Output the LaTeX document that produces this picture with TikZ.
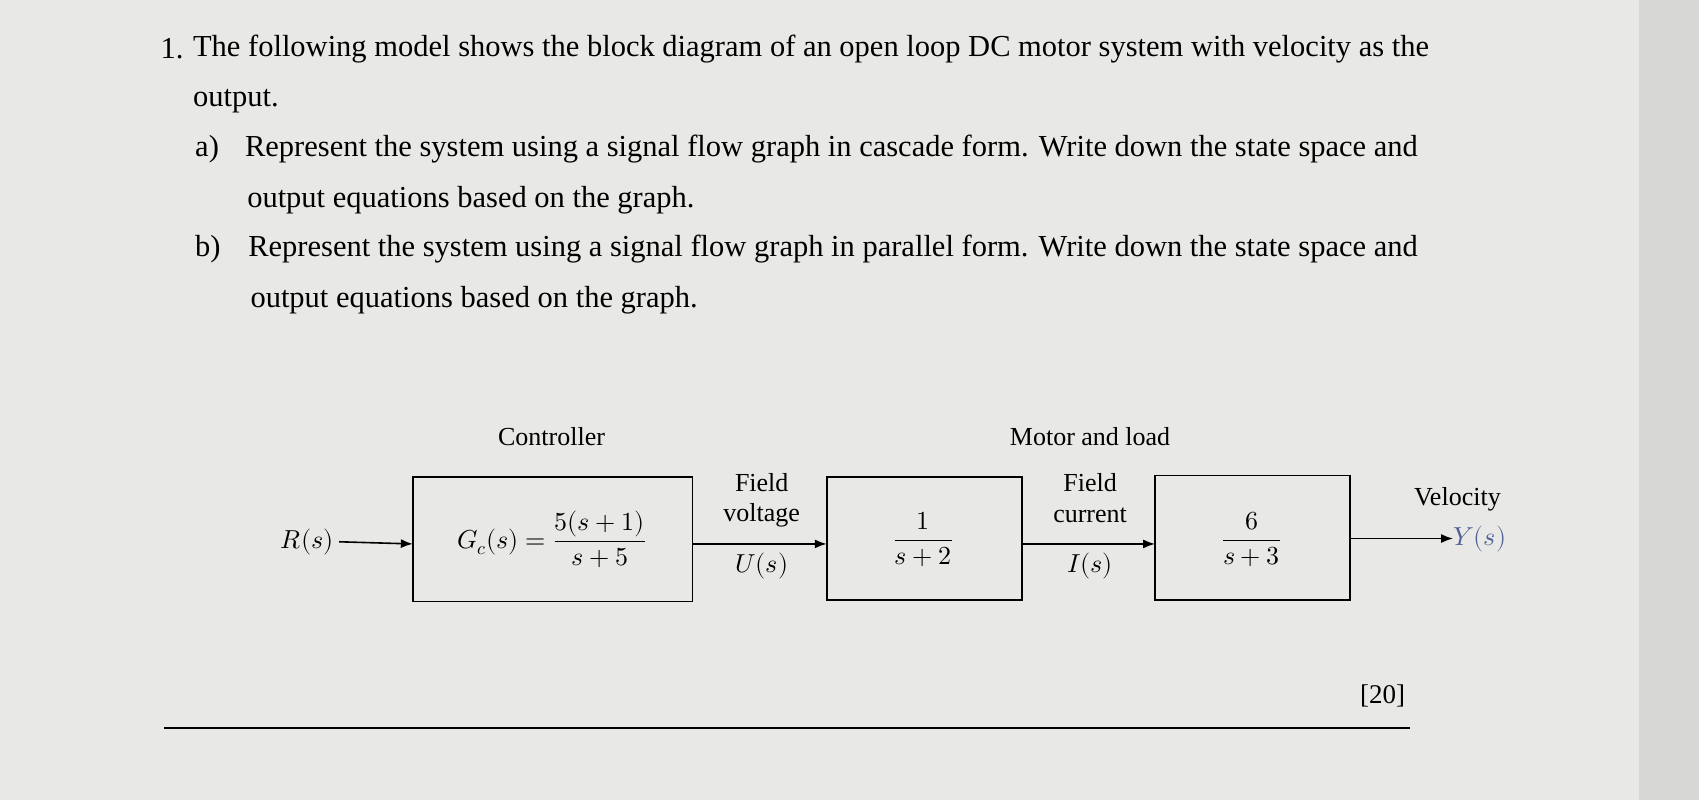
\documentclass[tikz,border=0pt]{standalone}
\usetikzlibrary{arrows.meta}
\usepackage{fontspec}
\setmainfont{Liberation Serif}
\usepackage{unicode-math}
\setmathfont{Latin Modern Math}
\setmathrm{Liberation Serif}
\definecolor{bgc}{RGB}{232,232,230}
\definecolor{bgd}{RGB}{215,215,213}
\definecolor{ycol}{RGB}{80,95,150}
\begin{document}
\begin{tikzpicture}[x=1.0835pt,y=-1.0835pt,
  body/.style={anchor=west,inner sep=0,font=\fontsize{30.5}{33}\selectfont},
  lab/.style={inner sep=0,font=\fontsize{26}{29}\selectfont},
  blk/.style={draw,line width=1.6pt},
  sig/.style={line width=1.6pt,-{Latex[length=12pt,width=9pt]}}]
\fill[bgc] (0,0) rectangle (1568,738);
\fill[bgd] (1513,0) rectangle (1568,738);
\useasboundingbox (0,0) rectangle (1568,738);
\node[body] (n1) at (148,45) {1.};
\node[body] (l1) at (178,45) {The following model shows the block diagram of an open loop DC motor system with velocity as the};
\node[body] (l2) at (178,93) {output.};
\node[body] (a) at (180,138) {a)};
\node[body] (la1) at (226,138) {Represent the system using a signal flow graph in cascade form. Write down the state space and};
\node[body] (la2) at (228,185) {output equations based on the graph.};
\node[body] (b) at (180,230) {b)};
\node[body] (lb1) at (229,230) {Represent the system using a signal flow graph in parallel form. Write down the state space and};
\node[body] (lb2) at (231,277) {output equations based on the graph.};
\node[lab] (ctl) at (509,403) {Controller};
\node[lab] (mot) at (1006,403) {Motor and load};
\draw[blk] (381,440) rectangle (639,555);
\draw[blk] (763,440) rectangle (943,554);
\draw[blk] (1066,439) rectangle (1246,554);
\coordinate (b1w) at (381,502); \coordinate (b1e) at (639,502);
\coordinate (b2w) at (763,502); \coordinate (b2e) at (943,502);
\coordinate (b3w) at (1066,502); \coordinate (b3e) at (1246,497);
\node[lab] (g1) at (509,498) {$G_c(s)=\dfrac{5(s+1)}{s+5}$};
\node[lab] (g2) at (852,498) {$\dfrac{1}{s+2}$};
\node[lab] (g3) at (1155,498) {$\dfrac{6}{s+3}$};
\node[lab,anchor=east] (R) at (308,500) {$R(s)$};
\node[lab] (fv1) at (703,445) {Field};
\node[lab] (fv2) at (703,476) {voltage};
\node[lab] (U) at (703,522) {$U(s)$};
\node[lab] (fc1) at (1006,445) {Field};
\node[lab] (fc2) at (1006,476) {current};
\node[lab] (I) at (1006,522) {$I(s)$};
\node[lab] (vel) at (1345,461) {Velocity};
\node[lab,anchor=west] (Y) at (1341,497) {\color{ycol}$Y(s)$};
\draw[sig] (R.east) ++(5,0) -- (b1w);
\draw[sig] (b1e) -- (b2w);
\draw[sig] (b2e) -- (b3w);
\draw[sig] (b3e) -- (Y.west);
\node[lab,font=\fontsize{27}{30}\selectfont] (pts) at (1276,642) {[20]};
\coordinate (h1) at (151,672); \coordinate (h2) at (1301,672);
\draw[line width=2pt] (h1) -- (h2);
\end{tikzpicture}
\end{document}
